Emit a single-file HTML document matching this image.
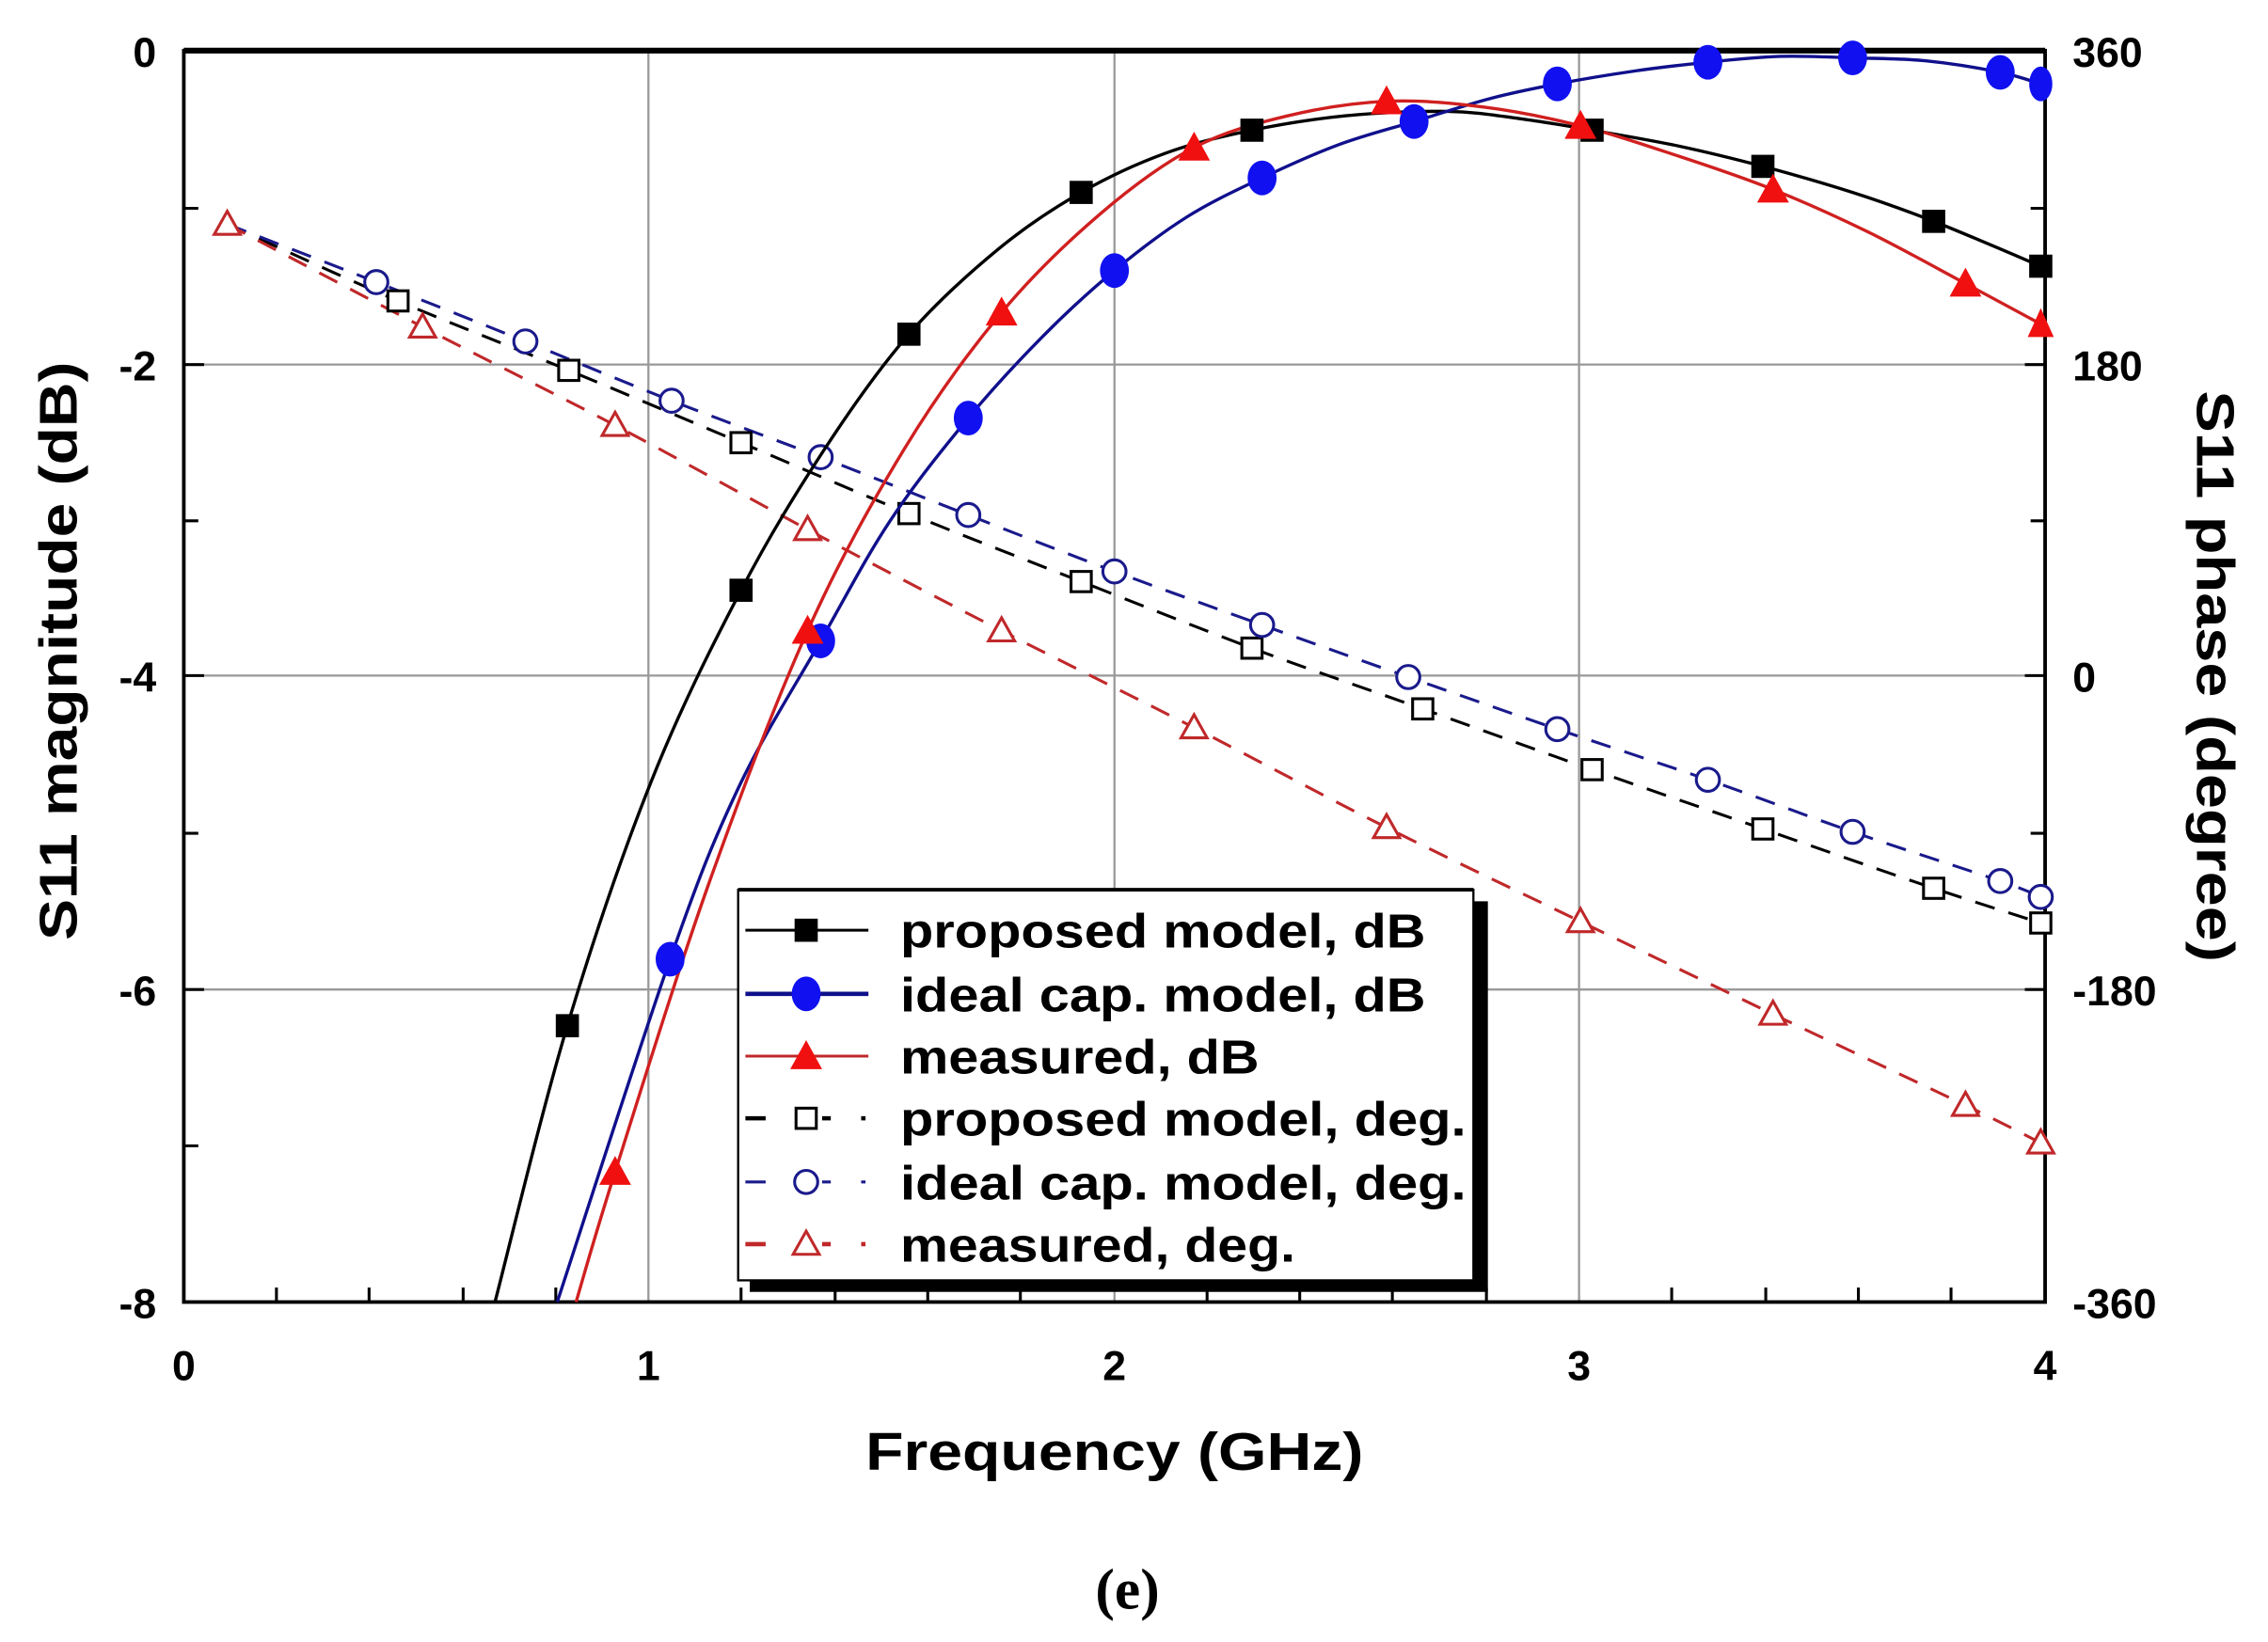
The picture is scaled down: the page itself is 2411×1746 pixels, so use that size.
<!DOCTYPE html>
<html><head><meta charset="utf-8"><style>html,body{margin:0;padding:0;background:#fff}svg{display:block}</style></head>
<body>
<svg width="2411" height="1746" viewBox="0 0 1567 1135" preserveAspectRatio="none" xmlns="http://www.w3.org/2000/svg" font-family="'Liberation Sans',Arial,sans-serif" font-weight="bold">
<rect width="1567" height="1135" fill="#fff"/>
<g stroke="#999" stroke-width="1.5">
<line x1="448" y1="35" x2="448" y2="900"/><line x1="770" y1="35" x2="770" y2="900"/><line x1="1091" y1="35" x2="1091" y2="900"/>
<line x1="127" y1="252" x2="1413" y2="252"/><line x1="127" y1="467" x2="1413" y2="467"/><line x1="127" y1="684" x2="1413" y2="684"/>
</g>
<g stroke="#000" stroke-width="2">
<path d="M191,900v-10M255,900v-10M320,900v-10M384,900v-10M512,900v-10M577,900v-10M641,900v-10M705,900v-10M834,900v-10M898,900v-10M962,900v-10M1027,900v-10M1155,900v-10M1220,900v-10M1284,900v-10M1348,900v-10"/>
<path d="M127,144h10M127,252h14M127,360h10M127,467h14M127,576h10M127,684h14M127,792h10"/>
<path d="M1413,144h-10M1413,252h-14M1413,360h-10M1413,467h-14M1413,576h-10M1413,684h-14M1413,792h-10"/>
</g>
<rect x="127" y="35" width="1286" height="865" fill="none" stroke="#000" stroke-width="2.5"/>
<line x1="127" y1="35" x2="1413" y2="35" stroke="#000" stroke-width="4"/>
<g fill="none" stroke-width="2" stroke-dasharray="14,10">
<path class="sm" stroke="#000" data-p="157,155 275,208 393,256 512,306 628,355 747,402 865,448 983,490 1100,532 1218,573 1336,614 1410,638"/>
<path class="sm" stroke="#1a1a8c" data-p="157,155 260,195 363,236 464,277 567,316 669,356 770,395 872,432 973,468 1076,504 1180,539 1280,575 1382,609 1410,620"/>
<path class="sm" stroke="#c0282a" data-p="157,155 292,226 425,294 558,366 692,436 825,503 958,572 1092,637 1225,701 1358,764 1410,790"/>
</g>
<g fill="#fff" stroke="#000" stroke-width="2">
<rect x="268" y="201" width="14" height="14"/><rect x="386" y="249" width="14" height="14"/><rect x="505" y="299" width="14" height="14"/><rect x="621" y="348" width="14" height="14"/><rect x="740" y="395" width="14" height="14"/><rect x="858" y="441" width="14" height="14"/><rect x="976" y="483" width="14" height="14"/><rect x="1093" y="525" width="14" height="14"/><rect x="1211" y="566" width="14" height="14"/><rect x="1329" y="607" width="14" height="14"/><rect x="1403" y="631" width="14" height="14"/>
</g>
<g fill="#fff" stroke="#1a1a8c" stroke-width="2">
<circle cx="260" cy="195" r="8"/><circle cx="363" cy="236" r="8"/><circle cx="464" cy="277" r="8"/><circle cx="567" cy="316" r="8"/><circle cx="669" cy="356" r="8"/><circle cx="770" cy="395" r="8"/><circle cx="872" cy="432" r="8"/><circle cx="973" cy="468" r="8"/><circle cx="1076" cy="504" r="8"/><circle cx="1180" cy="539" r="8"/><circle cx="1280" cy="575" r="8"/><circle cx="1382" cy="609" r="8"/><circle cx="1410" cy="620" r="8"/>
</g>
<g fill="#fff" stroke="#c0282a" stroke-width="2">
<path d="M157,146l9,16h-18z"/><path d="M292,217l9,16h-18z"/><path d="M425,285l9,16h-18z"/><path d="M558,357l9,16h-18z"/><path d="M692,427l9,16h-18z"/><path d="M825,494l9,16h-18z"/><path d="M958,563l9,16h-18z"/><path d="M1092,628l9,16h-18z"/><path d="M1225,692l9,16h-18z"/><path d="M1358,755l9,16h-18z"/><path d="M1410,781l9,16h-18z"/>
</g>
<g fill="none" stroke-width="2.2">
<path class="sm" stroke="#000" data-p="342,900 392,709 450,540 512,408 570,310 628,231 690,172 747,133 805,106 865,90 930,80 1000,77 1050,82 1100,90 1160,101 1218,115 1280,133 1336,153 1410,184"/>
<path class="sm" stroke="#10108c" data-p="385,900 463,663 510,545 567,443 615,360 669,289 720,233 770,187 820,150 872,123 925,100 977,84 1030,68 1076,58 1130,49 1180,43 1230,39 1280,40 1330,42 1382,50 1410,58"/>
<path class="sm" stroke="#d02020" data-p="398,900 425,810 490,610 558,436 625,310 692,216 760,148 825,102 890,80 958,70 1025,74 1092,87 1160,108 1225,131 1290,160 1358,196 1410,224"/>
</g>
<g fill="#000">
<rect x="384" y="701" width="16" height="16"/><rect x="504" y="400" width="16" height="16"/><rect x="620" y="223" width="16" height="16"/><rect x="739" y="125" width="16" height="16"/><rect x="857" y="82" width="16" height="16"/><rect x="1092" y="82" width="16" height="16"/><rect x="1210" y="107" width="16" height="16"/><rect x="1328" y="145" width="16" height="16"/><rect x="1402" y="176" width="16" height="16"/>
</g>
<g fill="#1010f0">
<ellipse cx="463" cy="663" rx="10" ry="12"/><ellipse cx="567" cy="443" rx="10" ry="12"/><ellipse cx="669" cy="289" rx="10" ry="12"/><ellipse cx="770" cy="187" rx="10" ry="12"/><ellipse cx="872" cy="123" rx="10" ry="12"/><ellipse cx="977" cy="84" rx="10" ry="12"/><ellipse cx="1076" cy="58" rx="10" ry="12"/><ellipse cx="1180" cy="43" rx="10" ry="12"/><ellipse cx="1280" cy="40" rx="10" ry="12"/><ellipse cx="1382" cy="50" rx="10" ry="12"/><ellipse cx="1410" cy="58" rx="8" ry="12"/>
</g>
<g fill="#f01010">
<path d="M425,799l11,20h-22z"/><path d="M558,425l11,20h-22z"/><path d="M692,205l11,20h-22z"/><path d="M825,91l11,20h-22z"/><path d="M958,59l11,20h-22z"/><path d="M1092,76l11,20h-22z"/><path d="M1225,120l11,20h-22z"/><path d="M1358,185l11,20h-22z"/><path d="M1410,213l9,20h-18z"/>
</g>
<rect x="518" y="623" width="510" height="270" fill="#000"/>
<rect x="510" y="615" width="508" height="270" fill="#fff" stroke="#000" stroke-width="1.5"/>
<line x1="510" y1="615" x2="1018" y2="615" stroke="#000" stroke-width="2.5"/>
<g font-size="33" lengthAdjust="spacingAndGlyphs">
<text x="622" y="655" textLength="363" lengthAdjust="spacingAndGlyphs">proposed model, dB</text>
<text x="622" y="699" textLength="363" lengthAdjust="spacingAndGlyphs">ideal cap. model, dB</text>
<text x="622" y="742" textLength="248" lengthAdjust="spacingAndGlyphs">measured, dB</text>
<text x="622" y="785" textLength="391" lengthAdjust="spacingAndGlyphs">proposed model, deg.</text>
<text x="622" y="829" textLength="391" lengthAdjust="spacingAndGlyphs">ideal cap. model, deg.</text>
<text x="622" y="872" textLength="273" lengthAdjust="spacingAndGlyphs">measured, deg.</text>
</g>
<line x1="515" y1="643" x2="600" y2="643" stroke="#000" stroke-width="2"/><rect x="549" y="635" width="16" height="16"/>
<line x1="515" y1="687" x2="600" y2="687" stroke="#10108c" stroke-width="3"/><ellipse cx="557" cy="687" rx="10" ry="12" fill="#1010f0"/>
<line x1="515" y1="730" x2="600" y2="730" stroke="#c0282a" stroke-width="2"/><path d="M557,719l11,20h-22z" fill="#f01010"/>
<path d="M515,773h14M568,773h6M595,773h3" stroke="#000" stroke-width="3"/><rect x="550" y="766" width="14" height="14" fill="#fff" stroke="#000" stroke-width="2"/>
<path d="M515,817h14M568,817h6M595,817h3" stroke="#1a1a8c" stroke-width="2"/><circle cx="557" cy="817" r="8" fill="#fff" stroke="#1a1a8c" stroke-width="2"/>
<path d="M515,860h14M568,860h6M595,860h3" stroke="#c0282a" stroke-width="3"/><path d="M557,851l9,16h-18z" fill="#fff" stroke="#c0282a" stroke-width="2"/>
<g font-size="29" text-anchor="end">
<text x="108" y="46">0</text><text x="108" y="263">-2</text><text x="108" y="478">-4</text><text x="108" y="695">-6</text><text x="108" y="911">-8</text>
</g>
<g font-size="29">
<text x="1432" y="46">360</text><text x="1432" y="263">180</text><text x="1432" y="478">0</text><text x="1432" y="695">-180</text><text x="1432" y="911">-360</text>
</g>
<g font-size="29" text-anchor="middle">
<text x="127" y="954">0</text><text x="448" y="954">1</text><text x="770" y="954">2</text><text x="1091" y="954">3</text><text x="1413" y="954">4</text>
</g>
<text x="598" y="1016" font-size="37" textLength="344" lengthAdjust="spacingAndGlyphs">Frequency  (GHz)</text>
<text transform="translate(53,650) rotate(-90)" font-size="37" textLength="400" lengthAdjust="spacingAndGlyphs">S11 magnitude  (dB)</text>
<text transform="translate(1518,270) rotate(90)" font-size="37" textLength="395" lengthAdjust="spacingAndGlyphs">S11 phase  (degree)</text>
<text x="779" y="1112" font-size="40" text-anchor="middle" font-family="'Liberation Serif',serif">(e)</text>
</svg>
<script>
document.querySelectorAll('path.sm').forEach(function(el){
  var p=el.getAttribute('data-p').trim().split(/\s+/).map(function(s){return s.split(',').map(Number);});
  var d='M'+p[0][0]+','+p[0][1];
  for(var i=0;i<p.length-1;i++){
    var p0=p[i-1]||p[i],p1=p[i],p2=p[i+1],p3=p[i+2]||p2;
    var c1x=p1[0]+(p2[0]-p0[0])/6,c1y=p1[1]+(p2[1]-p0[1])/6;
    var c2x=p2[0]-(p3[0]-p1[0])/6,c2y=p2[1]-(p3[1]-p1[1])/6;
    d+=' C'+c1x.toFixed(1)+','+c1y.toFixed(1)+' '+c2x.toFixed(1)+','+c2y.toFixed(1)+' '+p2[0]+','+p2[1];
  }
  el.setAttribute('d',d);
});
</script>
</body></html>
